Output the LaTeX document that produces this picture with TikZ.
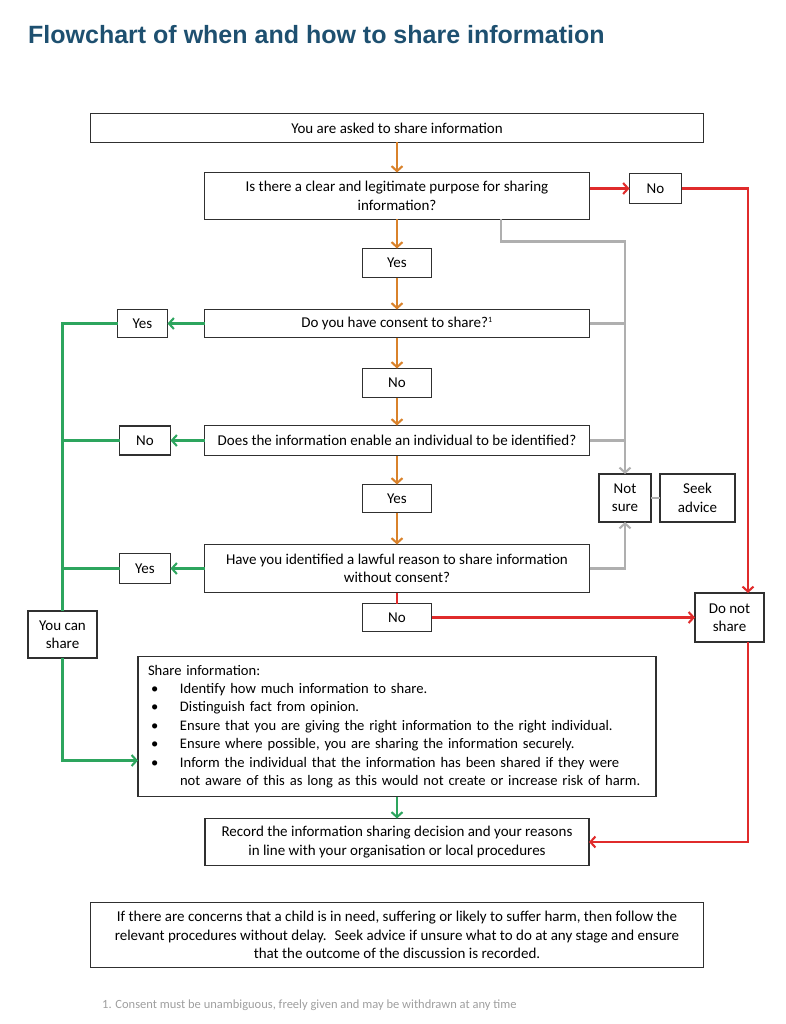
\documentclass[tikz,border=0pt]{standalone}
\usepackage{fontspec}
\setmainfont{Carlito}
\newfontfamily\titlefont{Liberation Sans}
\usetikzlibrary{arrows.meta, positioning}

\definecolor{flowor}{HTML}{D9822B}
\definecolor{flowred}{HTML}{E02B2B}
\definecolor{flowgreen}{HTML}{2DA55E}
\definecolor{flowgrey}{HTML}{AFAFAF}
\definecolor{titleblue}{HTML}{1E5070}
\definecolor{edge}{HTML}{303030}

\begin{document}
\begin{tikzpicture}[x=1pt, y=-1pt, >={Straight Barb[length=5pt,width=11pt]},
    every node/.style={font=\fontsize{15}{18.4}\selectfont}]
    \tikzstyle{box}=[draw=edge, line width=1.5pt, inner sep=2pt, outer sep=0pt, align=center]
    \tikzstyle{ans}=[box, minimum height=29pt]
    \tikzstyle{oline}=[flowor, line width=2.1pt]
    \tikzstyle{rline}=[flowred, line width=2.1pt]
    \tikzstyle{gline}=[flowgreen, line width=2.1pt]
    \tikzstyle{sline}=[flowgrey, line width=2.1pt]

    \useasboundingbox (0,0) rectangle (785,1024);

    % title
    \node[anchor=base west, inner sep=0pt, text=titleblue, font=\titlefont\bfseries\fontsize{25}{30}\selectfont] (title) at (28,44) {Flowchart of when and how to share information};

    % main column
    \node[box, minimum width=613pt, minimum height=29pt] (ask) at (397,128) {You are asked to share information};
    \node[box, minimum width=385pt, minimum height=47pt, below=30pt of ask] (purpose) {Is there a clear and legitimate purpose for sharing\\information?};
    \node[ans, minimum width=69pt, below=29pt of purpose] (yes1) {Yes};
    \node[box, minimum width=385pt, minimum height=28pt, below=32pt of yes1] (consent) {Do you have consent to share?\textsuperscript{\fontsize{8}{8}\selectfont 1}};
    \node[ans, minimum width=69pt, below=31pt of consent] (no1) {No};
    \node[box, minimum width=385pt, minimum height=30pt, below=28pt of no1] (ident) {Does the information enable an individual to be identified?};
    \node[ans, minimum width=69pt, minimum height=28pt, below=29pt of ident] (yes2) {Yes};
    \node[box, minimum width=385pt, minimum height=48pt, below=32pt of yes2] (lawful) {Have you identified a lawful reason to share information\\without consent?};
    \node[ans, minimum width=69pt, minimum height=28pt, below=11pt of lawful] (no2) {No};
    \node[box, minimum height=140pt, text width=498pt, inner xsep=10pt, align=left, font=\fontsize{14.6}{18.4}\selectfont, below=25pt of no2] (share) {Share information:\\
        \makebox[32pt][l]{\hspace{3pt}\textbullet}Identify how much information to share.\\
        \makebox[32pt][l]{\hspace{3pt}\textbullet}Distinguish fact from opinion.\\
        \makebox[32pt][l]{\hspace{3pt}\textbullet}Ensure that you are giving the right information to the right individual.\\
        \makebox[32pt][l]{\hspace{3pt}\textbullet}Ensure where possible, you are sharing the information securely.\\
        \makebox[32pt][l]{\hspace{3pt}\textbullet}Inform the individual that the information has been shared if they were\\
        \hspace*{32pt}\mbox{not aware of this as long as this would not create or increase risk of harm.}};
    \node[box, minimum width=384pt, minimum height=47pt, below=22pt of share] (record) {Record the information sharing decision and your reasons\\in line with your organisation or local procedures};
    \node[box, minimum width=613pt, minimum height=65pt, below=37pt of record] (concern) {If there are concerns that a child is in need, suffering or likely to suffer harm, then follow the\\relevant procedures without delay.~ Seek advice if unsure what to do at any stage and ensure\\that the outcome of the discussion is recorded.};

    % side answers
    \node[ans, minimum width=50pt, minimum height=28pt, left=37pt of consent] (yesA) {Yes};
    \node[ans, minimum width=51pt, left=34pt of ident] (noB) {No};
    \node[ans, minimum width=51pt, minimum height=30pt, left=34pt of lawful] (yesC) {Yes};
    \node[ans, minimum width=52pt, minimum height=30pt, right=40pt of purpose, yshift=7.5pt] (noR) {No};
    \node[box, minimum width=52pt, minimum height=48pt] (notsure) at (625,498) {Not\\sure};
    \node[box, minimum width=75pt, minimum height=48pt, right=9pt of notsure] (seek) {Seek\\advice};
    \node[box, minimum width=69pt, minimum height=49pt] (dont) at (729.5,617.5) {Do not\\share};
    \node[box, minimum width=69pt, minimum height=47pt] (cansh) at (62.5,634.5) {You can\\share};
    \coordinate (redx) at (748,0);

    % orange path
    \draw[oline, ->] (ask) -- (purpose);
    \draw[oline, ->] (purpose) -- (yes1);
    \draw[oline, ->] (yes1) -- (consent);
    \draw[oline, ->] (consent) -- (no1);
    \draw[oline, ->] (no1) -- (ident);
    \draw[oline, ->] (ident) -- (yes2);
    \draw[oline, ->] (yes2) -- (lawful);

    % red path
    \draw[rline, ->] (purpose.east |- noR) -- (noR.west);
    \draw[rline, ->] (noR.east) -| (redx |- dont.north);
    \draw[rline] (lawful) -- (no2);
    \draw[rline, ->] (no2.east) -- (no2.east -| dont.west);
    \draw[rline, ->] (redx |- dont.south) |- (record.east);

    % green path
    \draw[gline, ->] (consent) -- (yesA);
    \draw[gline, ->] (ident) -- (noB);
    \draw[gline, ->] (lawful) -- (yesC);
    \draw[gline] (yesA.west) -| (cansh.north);
    \draw[gline] (noB.west) -- (noB.west -| cansh.north);
    \draw[gline] (yesC.west) -- (yesC.west -| cansh.north);
    \draw[gline, ->] (cansh.south) |- ([yshift=-34pt]share.west);
    \draw[gline, ->] (share) -- (record);

    % grey path
    \draw[sline, ->] ([xshift=104pt]purpose.south) -- ++(0,22) -| (notsure.north);
    \draw[sline] (consent.east) -- (consent.east -| notsure.north);
    \draw[sline] (ident.east) -- (ident.east -| notsure.north);
    \draw[sline, ->] (lawful.east) -| (notsure.south);
    \draw[sline] (notsure) -- (seek);

    % footnote
    \node[anchor=base west, inner sep=0pt, text=flowgrey!90!black, font=\fontsize{12.5}{15}\selectfont] (foot) at (102,1008) {1. Consent must be unambiguous, freely given and may be withdrawn at any time};
\end{tikzpicture}
\end{document}
